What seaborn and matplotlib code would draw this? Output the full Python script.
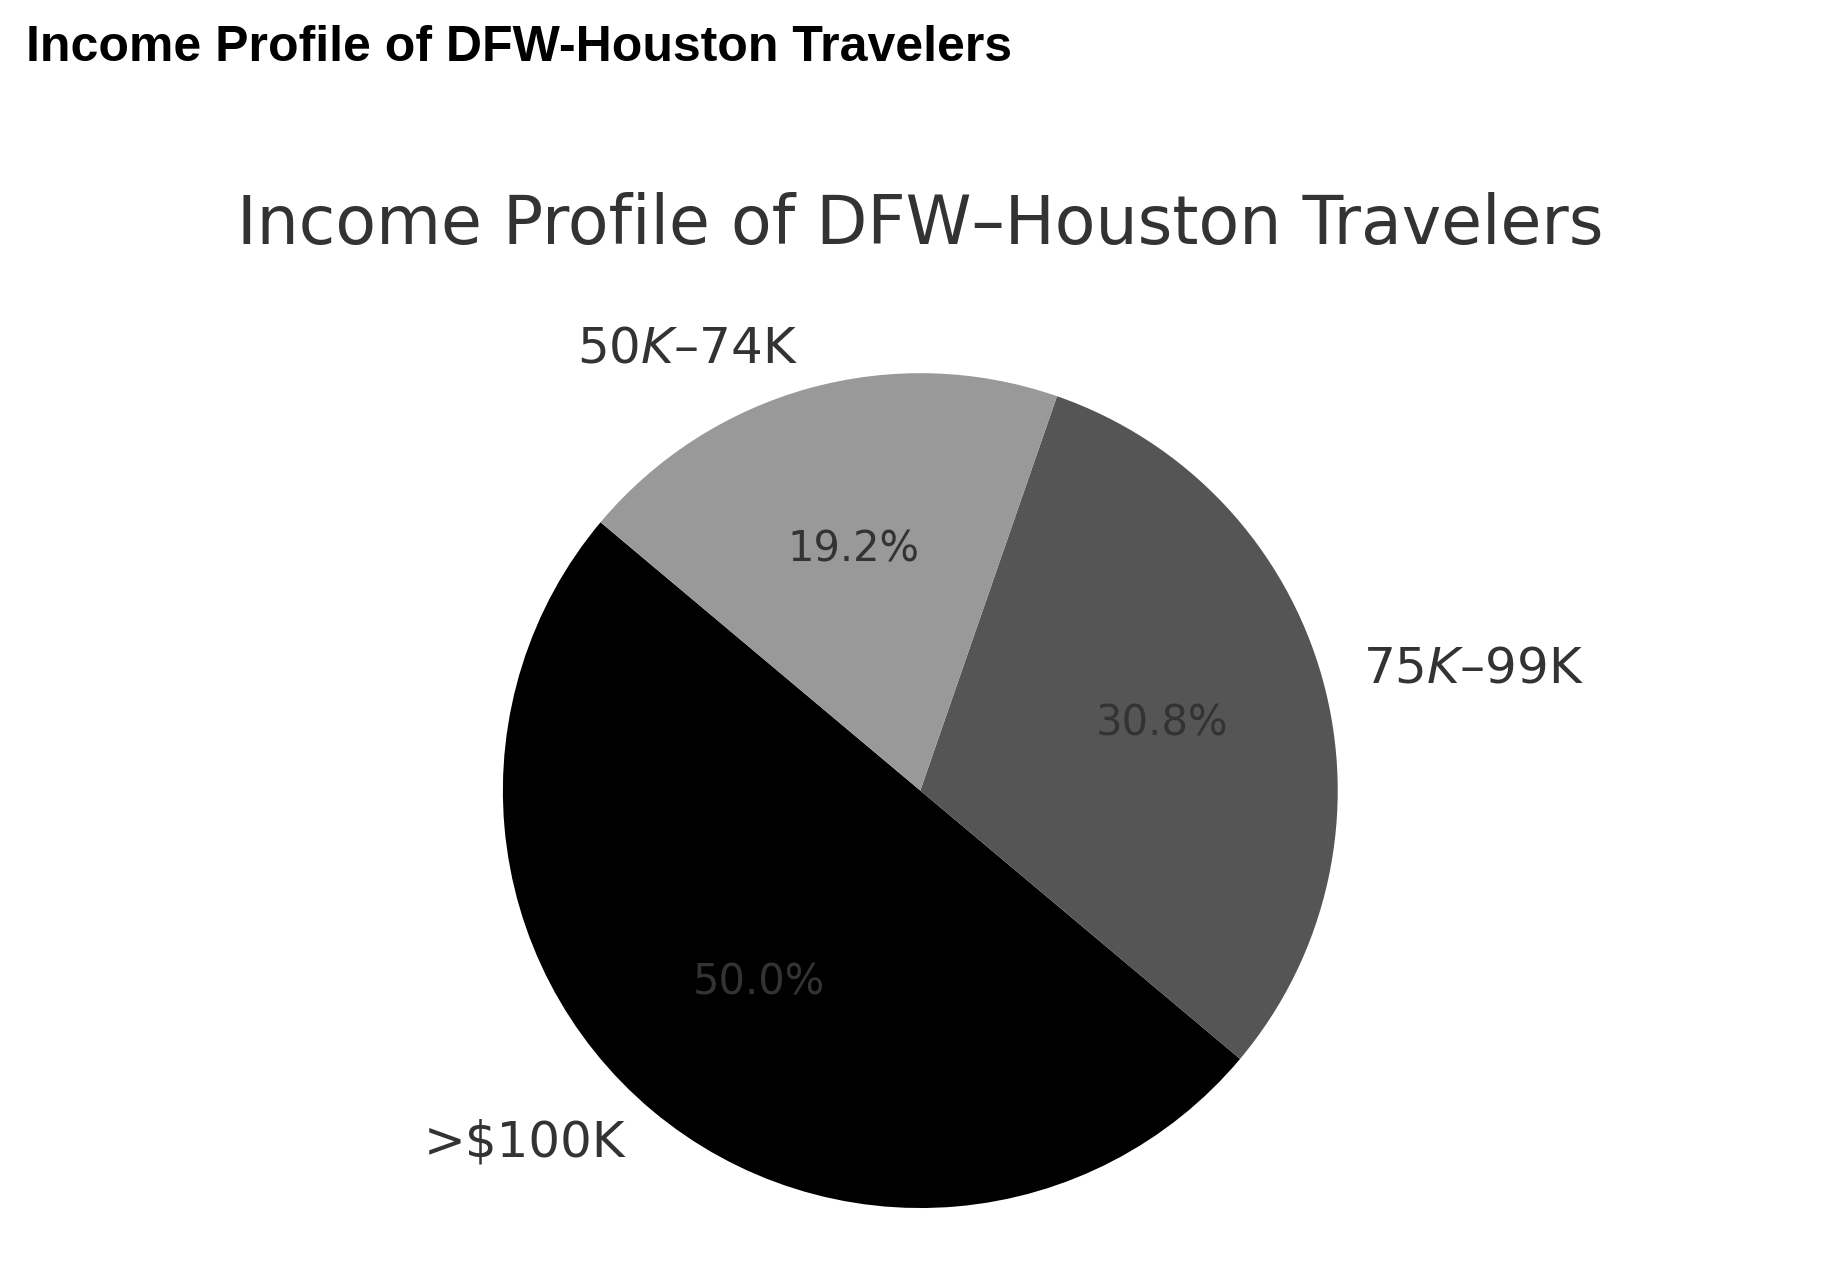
import matplotlib
matplotlib.use("Agg")
import matplotlib.pyplot as plt
import seaborn as sns

sns.set_theme(style="white")
plt.rcParams['font.family'] = ['DejaVu Sans']

labels = [">$100K", "$75K–$99K", "$50K–$74K"]
values = [50.0, 30.8, 19.2]
colors = ["#000000", "#555555", "#999999"]

fig = plt.figure(figsize=(9.13, 6.34), dpi=200)
ax = fig.add_axes([0.218, -0.035, 0.572, 0.823])
wedges, texts, autotexts = ax.pie(values, labels=labels, colors=colors, startangle=140,
                                  autopct="%1.1f%%", wedgeprops={"linewidth": 0},
                                  textprops={"fontsize": 18, "color": "#333333"})
for t in autotexts:
    t.set_fontsize(15)
    t.set_color("#333333")
ax.set_title("Income Profile of DFW–Houston Travelers", fontsize=24, color="#333333", pad=9)
fig.text(0.014, 0.98, "Income Profile of DFW-Houston Travelers", fontsize=18, fontweight="bold",
         family="Liberation Sans", color="black", va="top", ha="left")
fig.savefig("out.png", dpi=200)
